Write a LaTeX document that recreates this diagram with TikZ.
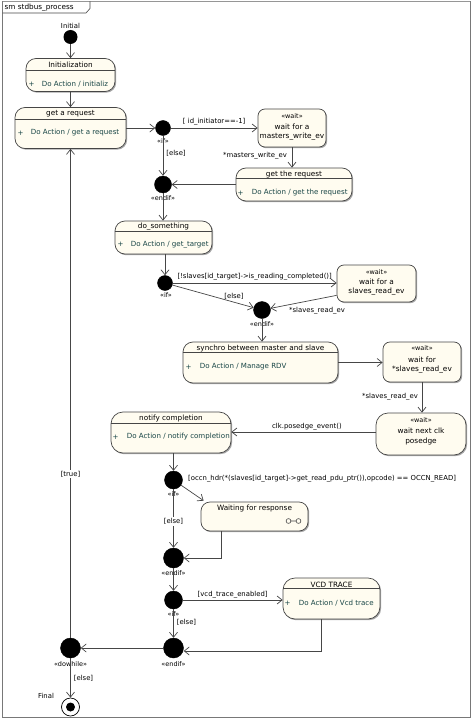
\documentclass[tikz,border=0pt]{standalone}
\usepackage{fontspec}
\setmainfont{DejaVu Sans}
\usetikzlibrary{arrows.meta,calc,shadows}
\definecolor{cream}{RGB}{255,252,240}
\definecolor{edge}{RGB}{70,70,70}
\definecolor{acttext}{RGB}{25,70,70}
\definecolor{framegray}{RGB}{150,150,150}
\begin{document}
\begin{tikzpicture}[x=1bp,y=-1bp,
  every node/.style={inner sep=0pt, font=\fontsize{7}{8}\selectfont},
  shad/.style={drop shadow={shadow xshift=1.2bp, shadow yshift=-1.2bp, fill=black, opacity=0.35}},
  actbox/.style={draw=edge, fill=cream, line width=0.7bp, rounded corners=10bp, shad},
  waitbox/.style={draw=edge, fill=cream, line width=0.7bp, rounded corners=7bp, shad},
  dec/.style={circle, fill=black, draw=black},
  lbl/.style={font=\fontsize{6.5}{7}\selectfont},
  glbl/.style={font=\fontsize{6.9}{8}\selectfont},
  ttl/.style={font=\fontsize{7.3}{8}\selectfont},
  wtx/.style={font=\fontsize{7.4}{8}\selectfont},
  act/.style={font=\fontsize{7.1}{8}\selectfont, text=acttext},
  arr/.style={draw=edge, line width=0.7bp, -{Straight Barb[length=5bp,width=8bp,line width=0.7bp]}},
  ln/.style={draw=edge, line width=0.7bp}]
\useasboundingbox (0,0) rectangle (474,720);
% frame
\draw[framegray, line width=1bp] (2,1.5) -- (470.5,1.5);
\draw[framegray!80!black, line width=1.8bp] (470.5,1.5) -- (470.5,717.5) -- (2,717.5);
\draw[framegray!80!black, line width=1.8bp] (2.5,1.5) -- (2.5,717.5);
\draw[edge, line width=0.6bp] (2.5,13) -- (86,13) -- (90,8.5) -- (90,1.5);
\node[anchor=west, font=\fontsize{7.3}{8}\selectfont] (title) at (4.5,7.5) {sm stdbus\_process};

% initial
\node[circle, fill=black, minimum size=14bp] (initial) at (70.5,37) {};
\node[glbl] (initlbl) at (70.5,26) {Initial};

% Initialization
\node[actbox, minimum width=89bp, minimum height=33bp] (init) at (70.5,75) {};
\node[ttl] (initt) at (70.5,65) {Initialization};
\draw[ln] ([yshift=-12.5bp]init.north west) -- ([yshift=-12.5bp]init.north east);
\node[act] (initp) at ([xshift=6bp]init.west |- 0,84) {+};
\node[act, anchor=west] (inita) at ([xshift=16bp]init.west |- 0,84) {Do Action / initializ};

% get a request
\node[actbox, minimum width=111bp, minimum height=41bp] (getreq) at (70.5,128) {};
\node[ttl] (getreqt) at (70.5,114) {get a request};
\draw[ln] ([yshift=-12bp]getreq.north west) -- ([yshift=-12bp]getreq.north east);
\node[act] (getreqp) at ([xshift=6bp]getreq.west |- 0,133) {+};
\node[act, anchor=west] (getreqa) at ([xshift=16bp]getreq.west |- 0,133) {Do Action / get a request};

% if1
\node[dec, minimum size=15bp] (if1) at (163,128) {};
\node[lbl] (if1l) at (163,141) {«if»};

% wait1
\node[waitbox, minimum width=68bp, minimum height=38bp] (wait1) at (292,128) {};
\node[lbl] (wait1s) at (292,116) {«wait»};
\node[wtx] (wait1a) at (292,127) {wait for a};
\node[wtx] (wait1b) at (292,137) {masters\_write\_ev};

% get the request
\node[actbox, minimum width=116bp, minimum height=33bp] (gtr) at (294,184.5) {};
\node[ttl] (gtrt) at (294,174) {get the request};
\draw[ln] ([yshift=-11bp]gtr.north west) -- ([yshift=-11bp]gtr.north east);
\node[act] (gtrp) at ([xshift=5bp]gtr.west |- 0,193) {+};
\node[act, anchor=west] (gtra) at ([xshift=16bp]gtr.west |- 0,193) {Do Action / get the request};

% endif1
\node[dec, minimum size=17bp] (endif1) at (163,184.5) {};
\node[lbl] (endif1l) at (163,198.5) {«endif»};

% do_something
\node[actbox, minimum width=97bp, minimum height=33bp] (dos) at (163.5,237.5) {};
\node[ttl] (dost) at (163.5,227) {do\_something};
\draw[ln] ([yshift=-11bp]dos.north west) -- ([yshift=-11bp]dos.north east);
\node[act] (dosp) at ([xshift=6bp]dos.west |- 0,244.5) {+};
\node[act, anchor=west] (dosa) at ([xshift=16bp]dos.west |- 0,244.5) {Do Action / get\_target};

% if2
\node[dec, minimum size=15bp] (if2) at (165,283) {};
\node[lbl] (if2l) at (166,295.5) {«if»};

% wait2
\node[waitbox, minimum width=79bp, minimum height=37bp] (wait2) at (376.5,283.5) {};
\node[lbl] (wait2s) at (376.5,272) {«wait»};
\node[wtx] (wait2a) at (376.5,282) {wait for a};
\node[wtx] (wait2b) at (376.5,292) {slaves\_read\_ev};

% endif2
\node[dec, minimum size=17bp] (endif2) at (262,310) {};
\node[lbl] (endif2l) at (262,324) {«endif»};

% synchro
\node[actbox, minimum width=155bp, minimum height=41bp] (syn) at (260.5,362.5) {};
\node[ttl] (synt) at (260.5,348) {synchro between master and slave};
\draw[ln] ([yshift=-11bp]syn.north west) -- ([yshift=-11bp]syn.north east);
\node[act] (synp) at ([xshift=6bp]syn.west |- 0,367) {+};
\node[act, anchor=west] (syna) at ([xshift=17bp]syn.west |- 0,367) {Do Action / Manage RDV};

% wait3
\node[waitbox, minimum width=78bp, minimum height=40bp] (wait3) at (422,362) {};
\node[lbl] (wait3s) at (422,348.5) {«wait»};
\node[wtx] (wait3a) at (422,359.5) {wait for};
\node[wtx] (wait3b) at (422,369.5) {*slaves\_read\_ev};

% wait4
\node[waitbox, rounded corners=12bp, minimum width=90bp, minimum height=42bp] (wait4) at (421,434) {};
\node[lbl] (wait4s) at (421,420) {«wait»};
\node[wtx] (wait4a) at (421,431) {wait next clk};
\node[wtx] (wait4b) at (421,441) {posedge};

% notify
\node[actbox, rounded corners=12bp, minimum width=120bp, minimum height=41bp] (nfy) at (171,432.5) {};
\node[ttl] (nfyt) at (171,418.5) {notify completion};
\draw[ln] ([yshift=-12bp]nfy.north west) -- ([yshift=-12bp]nfy.north east);
\node[act] (nfyp) at ([xshift=5bp]nfy.west |- 0,437) {+};
\node[act, anchor=west] (nfya) at ([xshift=16bp]nfy.west |- 0,437) {Do Action / notify completion};

% if3
\node[dec, minimum size=18bp] (if3) at (173.5,480) {};
\node[lbl] (if3l) at (173.5,494) {«if»};

% waiting
\node[actbox, rounded corners=9bp, minimum width=107bp, minimum height=29bp] (wtg) at (254.5,516.5) {};
\node[ttl] (wtgt) at (254.5,508) {Waiting for response};
\draw[edge, line width=0.6bp] (288.5,521) circle (2.4bp) (298.5,521) circle (2.4bp) (290.9,521) -- (296.1,521);

% endif3
\node[dec, minimum size=20bp] (endif3) at (173.5,558) {};
\node[lbl] (endif3l) at (173.5,573) {«endif»};

% if4
\node[dec, minimum size=18bp] (if4) at (173.5,600) {};
\node[lbl] (if4l) at (173.5,614.5) {«if»};

% VCD
\node[actbox, rounded corners=12bp, minimum width=97bp, minimum height=41bp] (vcd) at (331.5,598.5) {};
\node[ttl] (vcdt) at (331.5,585) {VCD TRACE};
\draw[ln] ([yshift=-11bp]vcd.north west) -- ([yshift=-11bp]vcd.north east);
\node[act] (vcdp) at ([xshift=5bp]vcd.west |- 0,603) {+};
\node[act, anchor=west] (vcda) at ([xshift=16bp]vcd.west |- 0,603) {Do Action / Vcd trace};

% endif4
\node[dec, minimum size=20bp] (endif4) at (173.5,648) {};
\node[lbl] (endif4l) at (173.5,664) {«endif»};

% dowhile
\node[dec, minimum size=20bp] (dow) at (70.5,648) {};
\node[lbl] (dowl) at (70.5,664) {«dowhile»};

% final
\node[circle, draw=black, line width=0.7bp, fill=white, minimum size=18bp] (final) at (70.5,707) {};
\node[circle, fill=black, minimum size=9bp] (finalin) at (final.center) {};
\node[glbl] (finall) at (46,696) {Final};

% connectors
\draw[arr] (initial) -- (initial |- init.north);
\draw[arr] (init.south) -- (getreq.north);
\draw[arr] (getreq.east) -- (if1);
\draw[arr] (if1) -- node[glbl, above=2.5bp] (g1) {[ id\_initiator==-1]} (wait1.west);
\draw[arr] (wait1.south) -- (wait1.south |- gtr.north);
\node[glbl] (g2) at (255,155.5) {*masters\_write\_ev};
\draw[arr] (gtr.west) -- (endif1);
\draw[arr] (if1) -- node[glbl, right=3bp, pos=0.45] (g3) {[else]} (endif1);
\draw[arr] (endif1) -- (endif1 |- dos.north);
\draw[arr] (if2 |- dos.south) -- (if2);
\draw[arr] (if2) -- node[glbl, above=2.5bp] (g4) {[!slaves[id\_target]->is\_reading\_completed()]} (if2 -| wait2.west);
\draw[arr] (if2) -- (endif2);
\node[glbl] (g5) at (234,296) {[else]};
\coordinate (w2o) at ($(wait2.south west)+(0,-7)$);
\draw[arr] (w2o) -- (endif2);
\node[glbl] (g6) at (317,311) {*slaves\_read\_ev};
\draw[arr] (endif2) -- (endif2 |- syn.north);
\draw[arr] (syn.east) -- (syn.east -| wait3.west);
\draw[arr] (wait3.south) -- (wait3.south |- wait4.north);
\node[glbl] (g7) at (390,396.5) {*slaves\_read\_ev};
\coordinate (w4o) at ($(wait4.west)+(0,-2)$);
\draw[arr] (w4o) -- (w4o -| nfy.east);
\node[glbl] (g8) at (307,427) {clk.posedge\_event()};
\draw[arr] (if3 |- nfy.south) -- (if3);
\coordinate (wtgin) at ($(wtg.north west)+(3,-1)$);
\draw[arr] (if3) -- (wtgin);
\node[glbl, anchor=west] (g9) at (188,478.5) {[occn\_hdr(*(slaves[id\_target]->get\_read\_pdu\_ptr()),opcode) == OCCN\_READ]};
\draw[arr] (if3) -- node[glbl, fill=white, inner sep=1bp, pos=0.55] (g10) {[else]} (endif3);
\coordinate (wtgo) at ($(wtg.south west)+(21,0)$);
\draw[arr] (wtgo) |- (endif3);
\draw[arr] (endif3) -- (if4);
\draw[arr] (if4) -- node[glbl, above=2bp] (g11) {[vcd\_trace\_enabled]} (if4 -| vcd.west);
\draw[arr] (if4) -- node[glbl, right=3bp, pos=0.45] (g12) {[else]} (endif4);
\coordinate (vcdo) at ($(vcd.south west)+(39,0)$);
\draw[arr] (vcdo) |- ($(endif4.east)+(0,3)$);
\draw[arr] (endif4) -- (dow);
\draw[arr] (dow) -- node[glbl, fill=white, inner sep=1bp, pos=0.335] (g13) {[true]} (getreq.south);
\draw[arr] (dow) -- node[glbl, right=3bp, pos=0.5] (g14) {[else]} (final);
\end{tikzpicture}
\end{document}
